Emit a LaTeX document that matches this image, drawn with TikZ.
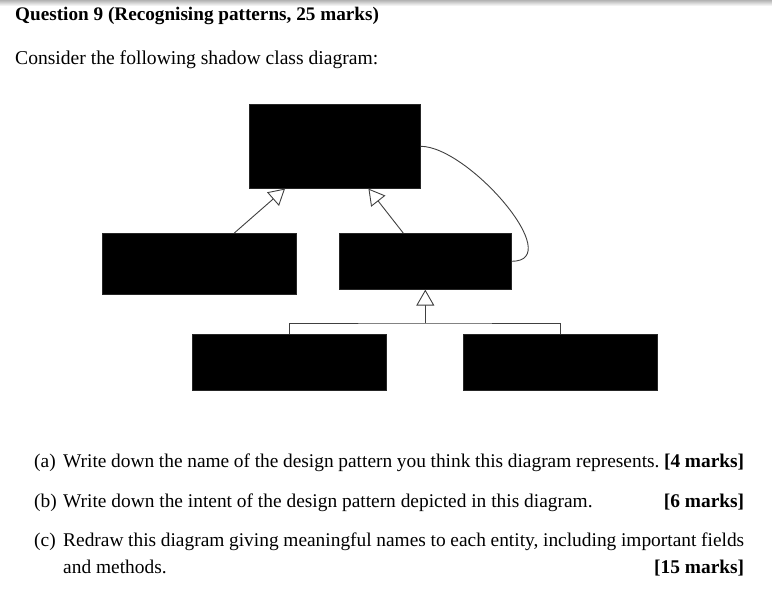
\documentclass[tikz,border=0pt]{standalone}
\usepackage{fontspec}
\setmainfont{Liberation Serif}
\usetikzlibrary{arrows.meta,calc}
\frenchspacing
\tikzset{
  umlbox/.style={draw=black!85, fill=black, line width=0.6pt, inner sep=0pt, anchor=north west},
  conn/.style={draw=black!75, line width=0.9pt},
  inh/.style={conn, -{Triangle[open, length=16pt, width=18pt, fill=white]}},
  txt/.style={anchor=base west, inner sep=0pt, font=\fontsize{19.4}{23}\selectfont},
}
\begin{document}
\begin{tikzpicture}[x=1pt, y=-1pt]
\useasboundingbox (0,0) rectangle (772,615);
\shade[top color=black!30, bottom color=white] (0,0) rectangle (772,6);

\node[txt, font=\fontsize{19.2}{23}\selectfont] (title) at (15,21) {\textbf{Question 9 (Recognising patterns, 25 marks)}};
\node[txt, font=\fontsize{19.6}{23}\selectfont] (intro) at (15,65) {Consider the following shadow class diagram:};

\node[umlbox, minimum width=171pt, minimum height=84pt] (top) at (249,104) {};
\node[umlbox, minimum width=194pt, minimum height=61pt] (ml) at (102,233) {};
\node[umlbox, minimum width=172pt, minimum height=56pt] (mr) at (339,233) {};
\node[umlbox, minimum width=194pt, minimum height=56pt] (bl) at (192,334) {};
\node[umlbox, minimum width=194pt, minimum height=56pt] (br) at (463,334) {};

\draw[inh] ($(ml.north west)!0.68!(ml.north east)$) -- ($(top.south west)!0.21!(top.south east)$);
\draw[inh] ($(mr.north west)!0.372!(mr.north east)$) -- ($(top.south west)!0.696!(top.south east)$);
\draw[conn] (top.east) .. controls +(48,0) and +(56,0) .. (mr.east);
\coordinate (junc) at (mr.south |- 0,323);
\draw[inh] (junc) -- (mr.south);
\draw[conn] (bl.north) |- (junc) -| (br.north);

\node[txt] (la) at (34,467) {(a)};
\node[txt] (ta) at (63,467) {\makebox[681pt][s]{Write down the name of the design pattern you think this diagram represents. \textbf{[4 marks]}}};
\node[txt] (lb) at (34,507) {(b)};
\node[txt] (tb) at (63,507) {\makebox[681pt][l]{Write down the intent of the design pattern depicted in this diagram.\hfill\textbf{[6 marks]}}};
\node[txt] (lc) at (34,546) {(c)};
\node[txt] (tc) at (63,546) {\makebox[681pt][s]{Redraw this diagram giving meaningful names to each entity, including important fields}};
\node[txt] (tc2) at (63,573) {\makebox[681pt][l]{and methods.\hfill\textbf{[15 marks]}}};
\end{tikzpicture}
\end{document}
